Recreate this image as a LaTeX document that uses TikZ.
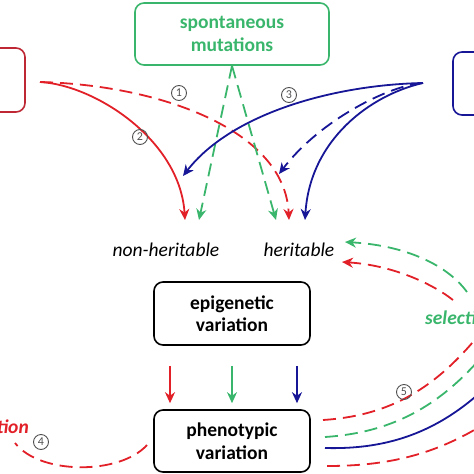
\documentclass[tikz,border=0pt]{standalone}
\usepackage{fontspec}
\setmainfont{Carlito}
\usepackage{tikz}
\usetikzlibrary{arrows.meta}
\usetikzlibrary{positioning,calc}
\definecolor{selred}{RGB}{226,32,40}
\definecolor{boxred}{RGB}{190,40,52}
\definecolor{mutgreen}{RGB}{58,182,108}
\definecolor{genblue}{RGB}{22,22,150}
\definecolor{numgray}{RGB}{80,80,80}
\tikzset{
    box/.style={
        draw,
        rounded corners=9pt,
        line width=1.6pt,
        align=center,
        inner sep=0pt,
        font=\fontsize{19.5}{22.5}\selectfont\bfseries
    },
    lbl/.style={
        inner sep=0pt,
        font=\fontsize{19.5}{22}\selectfont\itshape
    },
    sel/.style={
        inner sep=0pt,
        font=\fontsize{19.5}{22}\selectfont\bfseries\itshape
    },
    num/.style={
        draw=numgray,
        circle,
        line width=0.9pt,
        minimum size=15pt,
        inner sep=0pt,
        text=numgray,
        font=\fontsize{12}{12}\selectfont
    }
}

\begin{document}
\begin{tikzpicture}[x=1pt, y=-1pt]
  \tikzset{
    flow/.style={line width=1.8pt},
    dsh/.style={dash pattern=on 13pt off 7pt},
    tipped/.style={-{Stealth[length=11pt, width=10pt, inset=3.5pt]}},
    redln/.style={flow, selred},
    greenln/.style={flow, mutgreen},
    blueln/.style={flow, genblue}
  }
  \useasboundingbox (0,0) rectangle (474,474);
  \clip (0,0) rectangle (474,474);

  % Source boxes
  \node[box, draw=boxred, minimum width=66pt, minimum height=64pt] (env) at (-8,80) {};
  \node[box, draw=genblue, minimum width=66pt, minimum height=63pt] (gen) at (486,83.5) {};
  \node[box, draw=mutgreen, text=mutgreen, minimum width=194pt, minimum height=62pt] (mut) at (232,34) {spontaneous\\mutations};

  % Variation
  \node[lbl] (nonher) at (166,250) {non-heritable};
  \node[lbl] (her) at (299,250) {heritable};
  \node[box, minimum width=156pt, minimum height=63pt] (epi) at (232,313.5) {epigenetic\\variation};
  \node[box, minimum width=156pt, minimum height=62pt] (phen) at (232,441) {phenotypic\\variation};

  % Selection (cut by the border)
  \node[sel, text=mutgreen, anchor=west] (selR) at (425,318) {selection};
  \node[sel, text=selred, anchor=east] (selL) at (29,427) {selection};

  % Ends of the connectors
  \coordinate (rs) at (40,82);
  \coordinate (bs) at (423,83);
  \coordinate (nr) at (185,220);
  \coordinate (ng) at (199,220);
  \coordinate (hg) at (276,220);
  \coordinate (hr) at (289,220);
  \coordinate (hb) at (305,220);
  \coordinate (b3) at (183,176);
  \coordinate (bd) at (279,174);

  % From the red box
  \draw[redln, tipped] (rs) .. controls (95,85) and (180,140) .. (nr);
  \draw[redln, dsh, tipped] (rs) .. controls (160,85) and (285,130) .. (hr);

  % Spontaneous mutations
  \draw[greenln, dsh, tipped] (mut.south) -- (ng);
  \draw[greenln, dsh, tipped] (mut.south) -- (hg);

  % From the blue box
  \draw[blueln, tipped] (bs) .. controls (330,85) and (230,115) .. (b3);
  \draw[blueln, dsh, tipped] (bs) .. controls (390,85) and (320,120) .. (bd);
  \draw[blueln, tipped] (bs) .. controls (370,95) and (310,140) .. (hb);

  % Epigenetic to phenotypic
  \draw[redln, tipped] ([xshift=-62pt, yshift=-20pt]epi.south) -- ([xshift=-62pt, yshift=6pt]phen.north);
  \draw[greenln, tipped] ([yshift=-20pt]epi.south) -- ([yshift=6pt]phen.north);
  \draw[blueln, tipped] ([xshift=65pt, yshift=-20pt]epi.south) -- ([xshift=65pt, yshift=6pt]phen.north);

  % Selection back to heritable
  \coordinate (sg) at (467,292);
  \coordinate (sr) at (453,300);
  \coordinate (hg2) at (345,242);
  \coordinate (hr2) at (342,262);
  \draw[greenln, dsh, tipped] (sg) .. controls (445,262) and (400,245) .. (hg2);
  \draw[redln, dsh, tipped] (sr) .. controls (430,282) and (390,265) .. (hr2);

  % Phenotypic variation to selection
  \coordinate (p1) at (323,420);
  \coordinate (p2) at (325,437);
  \coordinate (p3) at (325,448);
  \coordinate (p4) at (327,466);
  \coordinate (q1) at (505,300);
  \coordinate (q2) at (510,320);
  \coordinate (q3) at (520,350);
  \coordinate (q4) at (530,390);
  \draw[redln, dsh] (p1) .. controls (400,415) and (450,380) .. (q1);
  \draw[greenln, dsh] (p2) .. controls (400,432) and (455,400) .. (q2);
  \draw[blueln] (p3) .. controls (400,450) and (460,425) .. (q3);
  \draw[redln, dsh] (p4) .. controls (400,466) and (460,450) .. (q4);

  % Left selection loop
  \coordinate (l1) at (147,445);
  \coordinate (l2) at (15,443);
  \draw[redln, dsh] (l1) .. controls (120,475) and (40,475) .. (l2);

  % Numbers
  \node[num] (n1) at (179,93) {1};
  \node[num] (n2) at (140,137) {2};
  \node[num] (n3) at (289,95) {3};
  \node[num] (n4) at (41,442) {4};
  \node[num] (n5) at (404,392) {5};
\end{tikzpicture}
\end{document}
